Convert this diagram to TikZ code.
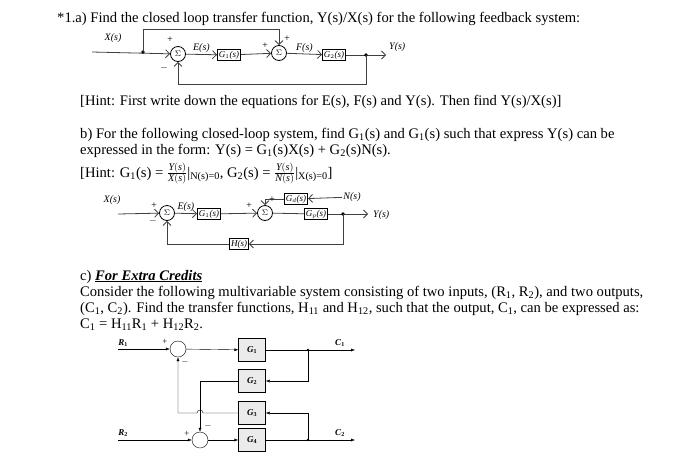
\documentclass[tikz,border=0pt]{standalone}
\usepackage{fontspec}
\setmainfont{Liberation Serif}
\usetikzlibrary{arrows.meta}
\newcommand{\bi}[2]{\textbf{\textit{#1}}\textsubscript{\textbf{#2}}}
\begin{document}
\begin{tikzpicture}[x=1pt,y=-1pt,
  txt/.style={anchor=base west,inner sep=0pt,font=\fontsize{14.6}{16}\selectfont},
  hw/.style={font=\fontsize{10}{11}\selectfont\itshape,inner sep=1pt},
  hblk/.style={draw,thick,inner sep=1.5pt,font=\fontsize{9}{10}\selectfont\itshape},
  hsum/.style={draw,thick,circle,minimum size=15pt,inner sep=0pt,font=\fontsize{8}{9}\selectfont},
  hl/.style={thick,draw=black!75},
  ha/.style={hl,-{Straight Barb[length=4pt]}},
  blk/.style={draw,fill=black!8,minimum width=27pt,minimum height=23pt,inner sep=0pt,font=\fontsize{9}{10}\selectfont},
  sum/.style={draw,circle,minimum size=16pt,inner sep=0pt},
  ar/.style={-{Latex[length=4pt]}},
  sm/.style={font=\fontsize{9}{10}\selectfont,inner sep=1pt}]
\useasboundingbox (0,0) rectangle (700,469);
% texts
\node[txt] (t1) at (57,22) {*1.a) Find the closed loop transfer function, Y(s)/X(s) for the following feedback system:};
\node[txt] (t2) at (80,105) {[Hint: First write down the equations for E(s), F(s) and Y(s). Then find Y(s)/X(s)]};
\node[txt] (t3) at (80,138) {b) For the following closed-loop system, find G\textsubscript{1}(s) and G\textsubscript{1}(s) such that express Y(s) can be};
\node[txt] (t4) at (80,154) {expressed in the form: Y(s) = G\textsubscript{1}(s)X(s) + G\textsubscript{2}(s)N(s).};
\node[txt] (t5) at (80,177) {[Hint: G\textsubscript{1}(s) = $\frac{\mathit{Y(s)}}{\mathit{X(s)}}$\textbar\textsubscript{N(s)=0}, G\textsubscript{2}(s) = $\frac{\mathit{Y(s)}}{\mathit{N(s)}}$\textbar\textsubscript{X(s)=0}]};
\node[txt] (t6) at (80,280) {c) \underline{\textbf{\textit{For Extra Credits}}}};
\node[txt] (t7) at (80,296) {Consider the following multivariable system consisting of two inputs, (R\textsubscript{1}, R\textsubscript{2}), and two outputs,};
\node[txt] (t8) at (80,312) {(C\textsubscript{1}, C\textsubscript{2}). Find the transfer functions, H\textsubscript{11} and H\textsubscript{12}, such that the output, C\textsubscript{1}, can be expressed as:};
\node[txt] (t9) at (80,328) {C\textsubscript{1} = H\textsubscript{11}R\textsubscript{1} + H\textsubscript{12}R\textsubscript{2}.};
% diagram 1
\node[hw] (x1) at (113,38) {X(s)};
\coordinate (in1) at (92,52);
\coordinate (b1) at (143,52);
\node[hsum] (s1) at (178,54) {$\Sigma$};
\node[hblk] (g1) at (229,55) {G$_1$(s)};
\node[hsum] (s2) at (279,53) {$\Sigma$};
\node[hblk] (g2) at (334,55) {G$_2$(s)};
\coordinate (j1) at (366,55);
\coordinate (o1) at (386,55);
\node[hw,anchor=west] (y1) at (388,47) {Y(s)};
\draw[ha] (in1) -- (s1);
\fill (b1) circle (1.8pt);
\draw[ha] (b1) |- (279,29) -- (s2);
\draw[ha] (s1) -- node[hw,above]{E(s)} (g1);
\draw[ha] (g1) -- (s2);
\draw[ha] (s2) -- node[hw,above]{F(s)} (g2);
\draw[ha] (g2) -- (o1);
\fill (j1) circle (1.8pt);
\draw[ha] (j1) |- (178,84) -- (s1);
\node[hw] at (170,40) {+};
\node[hw] at (164,68) {$-$};
\node[hw] at (265,46) {+};
\node[hw] at (287,39) {+};
% diagram 2
\node[hw] (x2) at (112,200) {X(s)};
\coordinate (in2) at (118,214);
\node[hsum] (u1) at (167,213) {$\Sigma$};
\node[hblk] (h1) at (209,214) {G$_1$(s)};
\node[hsum] (u2) at (265,213) {$\Sigma$};
\node[hblk] (gd) at (296,199) {G$_d$(s)};
\node[hw] (n2) at (352,197) {N(s)};
\node[hblk] (gp) at (316,214) {G$_p$(s)};
\node[hblk] (hh) at (239,244) {H(s)};
\coordinate (j2) at (343,214);
\coordinate (o2) at (368,214);
\node[hw,anchor=west] (y2) at (372,215) {Y(s)};
\draw[ha] (in2) -- (u1);
\draw[ha] (u1) -- node[hw,above]{E(s)} (h1);
\draw[ha] (h1) -- (u2);
\draw[ha] (n2) -- (gd);
\draw[ha] (gd.west) -| (u2);
\draw[hl] (u2) -- (gp);
\draw[ha] (gp) -- (o2);
\fill (j2) circle (1.8pt);
\draw[ha] (j2) |- (hh);
\draw[ha] (hh) -| (u1);
\node[hw] at (154,206) {+};
\node[hw] at (153,221) {$-$};
\node[hw] at (249,206) {+};
\node[hw] at (272,200) {+};
% diagram 3
\node[sm] (r1) at (123,343) {\bi{R}{1}};
\node[sm] (r2) at (123,433) {\bi{R}{2}};
\coordinate (r1s) at (118,349);
\coordinate (r2s) at (118,440);
\node[sum] (sa) at (178,349) {};
\node[sum] (sb) at (200,440) {};
\node[blk] (G1) at (252,350) {\bi{G}{1}};
\node[blk] (G2) at (252,381) {\bi{G}{2}};
\node[blk] (G3) at (252,413) {\bi{G}{3}};
\node[blk] (G4) at (252,440) {\bi{G}{4}};
\coordinate (ja) at (308,350);
\coordinate (jb) at (308,440);
\coordinate (c1) at (355,350);
\coordinate (c2) at (355,440);
\node[sm] at (340,343) {\bi{C}{1}};
\node[sm] at (340,433) {\bi{C}{2}};
\draw[ar] (r1s) -- (sa);
\draw[ar] (r2s) -- (sb);
\draw[ar] (sa) -- (G1);
\draw[ar] (sb) -- (G4);
\draw[ar] (G1) -- (c1);
\draw[ar] (G4) -- (c2);
\fill (ja) circle (1.3pt);
\fill (jb) circle (1.3pt);
\draw[ar] (ja) |- (G2);
\draw[ar] (jb) |- (G3);
\draw[ar] (G2) -| (sb);
\draw[ar] (G3.west) -- (203,413) arc (0:-180:3) -- (178,413) -- (sa);
\node[sm] at (165,342) {+};
\node[sm] at (187,434) {+};
\node[sm] at (185,362) {$-$};
\node[sm] at (208,426) {$-$};
\end{tikzpicture}
\end{document}
